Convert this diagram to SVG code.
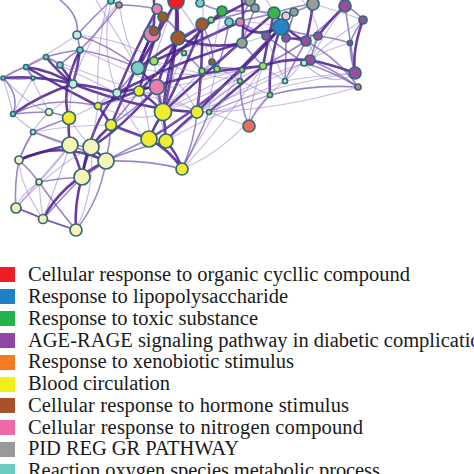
<svg xmlns="http://www.w3.org/2000/svg" width="474" height="474" viewBox="0 0 474 474">
<style>
.e1{fill:none;stroke:#4a1d8e;stroke-width:2.6;stroke-opacity:0.85}
.e2{fill:none;stroke:#5f3aa8;stroke-width:1.6;stroke-opacity:0.62}
.e3{fill:none;stroke:#9179c6;stroke-width:1.2;stroke-opacity:0.5}
.nd{stroke:#2e6b76;stroke-width:1.7}
.red{fill:#ee1c25}.blu{fill:#2484c6}.grn{fill:#3cb44a}.lgr{fill:#a8dc5a}.pur{fill:#9a4d9e}.org{fill:#f26b5a}
.yel{fill:#f3ec2e}.lye{fill:#f7f3b6}.brn{fill:#a5562a}.pnk{fill:#ec7bb2}.lpk{fill:#f3c6e0}.gry{fill:#9c9c9c}
.tea{fill:#7ccfc8}.lte{fill:#c4eadb}.rpk{fill:#ef6f82}
.lg{font-family:"Liberation Serif","Times New Roman",serif;font-size:20.5px;fill:#1a1a1a}
</style>
<g id="connectors">
<path class="e1" d="M176 1 Q160 30 138 68"/>
<path class="e1" d="M176 1 Q178 60 163 112"/>
<path class="e1" d="M176 -20 Q178 10 178 38"/>
<path class="e1" d="M163 17 Q150 50 139 91"/>
<path class="e1" d="M178 38 Q166 75 163 112"/>
<path class="e1" d="M178 38 Q165 60 157 87"/>
<path class="e1" d="M202 24 Q203 70 197 112"/>
<path class="e1" d="M202 24 Q185 70 163 112"/>
<path class="e1" d="M152 34 Q130 80 111 125"/>
<path class="e1" d="M152 34 Q144 50 138 68"/>
<path class="e1" d="M157 9 Q135 50 117 93"/>
<path class="e1" d="M274 13 Q220 60 163 112"/>
<path class="e1" d="M281 27 Q240 70 197 112"/>
<path class="e1" d="M281 27 Q230 90 149 139"/>
<path class="e1" d="M274 13 Q268 40 263 66"/>
<path class="e1" d="M281 27 Q270 30 266 36"/>
<path class="e1" d="M281 27 Q268 60 270 95"/>
<path class="e1" d="M240 22 Q200 40 154 61"/>
<path class="e1" d="M242 43 Q180 60 117 93"/>
<path class="e1" d="M250 1 Q190 30 138 68"/>
<path class="e1" d="M222 11 Q180 50 139 91"/>
<path class="e1" d="M313 4 Q310 25 306 41"/>
<path class="e1" d="M345 6 Q330 20 318 36"/>
<path class="e1" d="M363 20 Q352 50 355 73"/>
<path class="e1" d="M286 38 Q296 38 306 41"/>
<path class="e1" d="M263 66 Q234 90 209 112"/>
<path class="e1" d="M263 66 Q180 72 98 106"/>
<path class="e1" d="M310 60 Q285 58 263 66"/>
<path class="e1" d="M310 60 Q330 64 355 73"/>
<path class="e1" d="M240 -20 Q245 20 242 43"/>
<path class="e1" d="M150 -20 Q158 10 152 34"/>
<path class="e1" d="M26 67 Q50 70 73 84"/>
<path class="e1" d="M73 84 Q95 86 117 93"/>
<path class="e1" d="M3 78 Q40 75 73 84"/>
<path class="e1" d="M80 50 Q78 67 73 84"/>
<path class="e1" d="M46 57 Q58 72 73 84"/>
<path class="e1" d="M60 65 Q68 75 73 84"/>
<path class="e1" d="M13 114 Q40 95 73 84"/>
<path class="e1" d="M26 67 Q62 88 98 106"/>
<path class="e1" d="M80 50 Q60 90 69 118"/>
<path class="e1" d="M117 93 Q137 88 157 87"/>
<path class="e1" d="M98 106 Q105 115 111 125"/>
<path class="e1" d="M139 91 Q152 100 163 112"/>
<path class="e1" d="M157 87 Q160 100 163 112"/>
<path class="e1" d="M138 68 Q147 78 157 87"/>
<path class="e1" d="M73 84 Q140 110 197 112"/>
<path class="e1" d="M111 125 Q125 130 149 139"/>
<path class="e1" d="M163 112 Q155 125 149 139"/>
<path class="e1" d="M163 112 Q165 126 166 141"/>
<path class="e1" d="M197 112 Q180 125 166 141"/>
<path class="e1" d="M166 141 Q178 155 182 169"/>
<path class="e1" d="M149 139 Q170 150 182 169"/>
<path class="e1" d="M69 118 Q68 130 70 145"/>
<path class="e1" d="M70 145 Q78 160 82 177"/>
<path class="e1" d="M91 147 Q85 160 82 177"/>
<path class="e1" d="M106 161 Q98 152 91 147"/>
<path class="e1" d="M82 177 Q74 205 76 230"/>
<path class="e1" d="M106 161 Q60 185 43 219"/>
<path class="e1" d="M70 145 Q45 150 19 160"/>
<path class="e1" d="M111 125 Q100 135 91 147"/>
<path class="e1" d="M117 93 Q90 125 82 177"/>
<path class="e1" d="M19 160 Q60 140 106 161"/>
<path class="e1" d="M157 87 Q120 130 91 147"/>
<path class="e1" d="M281 27 Q250 40 240 22"/>
<path class="e1" d="M274 13 Q290 35 306 41"/>
<path class="e1" d="M178 38 Q210 50 242 43"/>
<path class="e2" d="M3 78 Q20 95 13 114"/>
<path class="e2" d="M3 78 Q15 70 26 67"/>
<path class="e2" d="M26 67 Q35 62 46 57"/>
<path class="e2" d="M46 57 Q53 60 60 65"/>
<path class="e2" d="M46 57 Q62 52 80 50"/>
<path class="e2" d="M60 65 Q70 55 80 50"/>
<path class="e2" d="M77 35 Q79 43 80 50"/>
<path class="e2" d="M26 67 Q30 72 33 78"/>
<path class="e2" d="M33 78 Q18 80 3 78"/>
<path class="e2" d="M77 35 Q110 45 138 68"/>
<path class="e2" d="M80 50 Q110 55 138 68"/>
<path class="e2" d="M77 35 Q95 15 111 1"/>
<path class="e2" d="M60 0 Q80 15 77 35"/>
<path class="e2" d="M119 5 Q100 30 80 50"/>
<path class="e2" d="M13 114 Q30 112 49 112"/>
<path class="e2" d="M49 112 Q60 114 69 118"/>
<path class="e2" d="M33 132 Q50 125 69 118"/>
<path class="e2" d="M33 132 Q50 138 70 145"/>
<path class="e2" d="M33 132 Q25 145 19 160"/>
<path class="e2" d="M19 160 Q30 170 39 182"/>
<path class="e2" d="M39 182 Q60 178 82 177"/>
<path class="e2" d="M19 160 Q14 185 16 208"/>
<path class="e2" d="M16 208 Q30 212 43 219"/>
<path class="e2" d="M16 208 Q45 220 76 230"/>
<path class="e2" d="M43 219 Q60 225 76 230"/>
<path class="e2" d="M39 182 Q55 205 76 230"/>
<path class="e2" d="M82 177 Q60 200 43 219"/>
<path class="e2" d="M70 145 Q80 146 91 147"/>
<path class="e2" d="M70 145 Q88 152 106 161"/>
<path class="e2" d="M106 161 Q95 170 82 177"/>
<path class="e2" d="M111 125 Q110 143 106 161"/>
<path class="e2" d="M106 161 Q100 200 76 230"/>
<path class="e2" d="M149 139 Q125 150 106 161"/>
<path class="e2" d="M166 141 Q130 150 106 161"/>
<path class="e2" d="M182 169 Q150 160 106 161"/>
<path class="e2" d="M197 112 Q203 112 209 112"/>
<path class="e2" d="M209 112 Q198 140 182 169"/>
<path class="e2" d="M197 112 Q195 140 182 169"/>
<path class="e2" d="M270 95 Q310 84 358 87"/>
<path class="e2" d="M249 126 Q255 108 270 95"/>
<path class="e2" d="M249 126 Q240 105 240 81"/>
<path class="e2" d="M358 87 Q330 70 304 63"/>
<path class="e2" d="M358 87 Q335 70 310 60"/>
<path class="e2" d="M358 87 Q340 60 306 41"/>
<path class="e2" d="M355 73 Q350 58 350 43"/>
<path class="e2" d="M350 43 Q335 38 318 36"/>
<path class="e2" d="M363 20 Q355 30 350 43"/>
<path class="e2" d="M363 20 Q355 10 345 6"/>
<path class="e2" d="M345 6 Q350 40 355 73"/>
<path class="e2" d="M285 81 Q295 60 306 41"/>
<path class="e2" d="M285 81 Q286 60 286 38"/>
<path class="e2" d="M304 63 Q285 50 266 36"/>
<path class="e2" d="M286 38 Q290 25 294 12"/>
<path class="e2" d="M286 16 Q284 20 281 27"/>
<path class="e2" d="M313 4 Q305 8 294 12"/>
<path class="e2" d="M255 8 Q248 25 242 43"/>
<path class="e2" d="M250 1 Q245 12 240 22"/>
<path class="e2" d="M240 22 Q253 30 266 36"/>
<path class="e2" d="M242 43 Q252 55 263 66"/>
<path class="e2" d="M242 70 Q252 68 263 66"/>
<path class="e2" d="M242 70 Q241 75 240 81"/>
<path class="e2" d="M318 36 Q314 48 310 60"/>
<path class="e2" d="M306 41 Q285 55 263 66"/>
<path class="e2" d="M281 27 Q300 35 318 36"/>
<path class="e2" d="M274 13 Q300 5 313 4"/>
<path class="e2" d="M345 6 Q320 30 306 41"/>
<path class="e2" d="M229 22 Q250 20 274 13"/>
<path class="e2" d="M222 11 Q248 10 274 13"/>
<path class="e2" d="M211 20 Q240 15 255 8"/>
<path class="e2" d="M202 71 Q220 65 242 70"/>
<path class="e2" d="M217 69 Q230 70 242 70"/>
<path class="e2" d="M184 53 Q195 62 202 71"/>
<path class="e2" d="M212 62 Q214 66 217 69"/>
<path class="e2" d="M200 3 Q210 8 222 11"/>
<path class="e2" d="M163 17 Q158 12 157 9"/>
<path class="e2" d="M163 17 Q180 30 178 38"/>
<path class="e2" d="M119 5 Q138 5 157 9"/>
<path class="e2" d="M111 1 Q115 3 119 5"/>
<path class="e2" d="M154 61 Q147 64 138 68"/>
<path class="e2" d="M178 38 Q195 30 202 24"/>
<path class="e2" d="M202 24 Q215 50 212 62"/>
<path class="e2" d="M229 22 Q225 48 217 69"/>
<path class="e2" d="M138 68 Q128 80 117 93"/>
<path class="e2" d="M139 91 Q125 110 111 125"/>
<path class="e2" d="M157 87 Q135 110 111 125"/>
<path class="e2" d="M98 106 Q117 100 139 91"/>
<path class="e2" d="M13 114 Q50 95 98 106"/>
<path class="e2" d="M33 78 Q75 82 117 93"/>
<path class="e3" d="M110 -10 Q95 50 98 106"/>
<path class="e3" d="M130 -10 Q90 30 73 84"/>
<path class="e3" d="M90 -10 Q120 40 138 68"/>
<path class="e3" d="M3 78 Q40 60 77 35"/>
<path class="e3" d="M13 114 Q40 140 70 145"/>
<path class="e3" d="M3 78 Q35 110 49 112"/>
<path class="e3" d="M60 65 Q90 80 117 93"/>
<path class="e3" d="M46 57 Q90 75 139 91"/>
<path class="e3" d="M80 50 Q130 70 157 87"/>
<path class="e3" d="M77 35 Q130 40 154 61"/>
<path class="e3" d="M73 84 Q70 100 69 118"/>
<path class="e3" d="M69 118 Q90 110 117 93"/>
<path class="e3" d="M49 112 Q70 100 73 84"/>
<path class="e3" d="M19 160 Q30 130 49 112"/>
<path class="e3" d="M19 160 Q20 185 43 219"/>
<path class="e3" d="M39 182 Q20 195 16 208"/>
<path class="e3" d="M39 182 Q40 200 43 219"/>
<path class="e3" d="M16 208 Q40 180 70 145"/>
<path class="e3" d="M43 219 Q60 175 70 145"/>
<path class="e3" d="M16 208 Q50 170 91 147"/>
<path class="e3" d="M76 230 Q95 190 91 147"/>
<path class="e3" d="M39 182 Q60 160 70 145"/>
<path class="e3" d="M33 132 Q70 125 111 125"/>
<path class="e3" d="M69 118 Q80 135 91 147"/>
<path class="e3" d="M98 106 Q95 125 91 147"/>
<path class="e3" d="M98 106 Q110 90 117 93"/>
<path class="e3" d="M117 93 Q140 140 149 139"/>
<path class="e3" d="M139 91 Q150 120 149 139"/>
<path class="e3" d="M157 87 Q160 120 166 141"/>
<path class="e3" d="M111 125 Q140 140 166 141"/>
<path class="e3" d="M98 106 Q140 125 163 112"/>
<path class="e3" d="M117 93 Q160 95 197 112"/>
<path class="e3" d="M139 91 Q170 95 197 112"/>
<path class="e3" d="M154 61 Q185 85 197 112"/>
<path class="e3" d="M154 61 Q158 90 163 112"/>
<path class="e3" d="M138 68 Q155 90 163 112"/>
<path class="e3" d="M184 53 Q170 80 163 112"/>
<path class="e3" d="M202 71 Q200 90 197 112"/>
<path class="e3" d="M217 69 Q210 90 209 112"/>
<path class="e3" d="M212 62 Q180 90 163 112"/>
<path class="e3" d="M242 70 Q200 90 163 112"/>
<path class="e3" d="M240 81 Q220 95 197 112"/>
<path class="e3" d="M240 81 Q200 110 166 141"/>
<path class="e3" d="M242 70 Q210 120 182 169"/>
<path class="e3" d="M263 66 Q220 130 182 169"/>
<path class="e3" d="M270 95 Q230 110 209 112"/>
<path class="e3" d="M270 95 Q230 150 182 169"/>
<path class="e3" d="M285 81 Q240 100 209 112"/>
<path class="e3" d="M304 63 Q250 80 209 112"/>
<path class="e3" d="M310 60 Q250 90 197 112"/>
<path class="e3" d="M355 73 Q270 85 209 112"/>
<path class="e3" d="M358 87 Q280 110 209 112"/>
<path class="e3" d="M355 73 Q330 90 304 63"/>
<path class="e3" d="M355 73 Q320 75 285 81"/>
<path class="e3" d="M350 43 Q325 50 310 60"/>
<path class="e3" d="M363 20 Q330 40 310 60"/>
<path class="e3" d="M363 20 Q335 10 313 4"/>
<path class="e3" d="M345 6 Q330 25 310 60"/>
<path class="e3" d="M318 36 Q300 70 285 81"/>
<path class="e3" d="M266 36 Q275 60 285 81"/>
<path class="e3" d="M263 66 Q275 75 285 81"/>
<path class="e3" d="M242 43 Q254 40 266 36"/>
<path class="e3" d="M255 8 Q270 15 281 27"/>
<path class="e3" d="M240 22 Q260 22 281 27"/>
<path class="e3" d="M294 12 Q290 30 286 38"/>
<path class="e3" d="M306 41 Q320 55 304 63"/>
<path class="e3" d="M294 -10 Q320 20 318 36"/>
<path class="e3" d="M260 -10 Q270 5 274 13"/>
<path class="e3" d="M330 -10 Q340 0 345 6"/>
<path class="e3" d="M200 -10 Q205 10 202 24"/>
<path class="e3" d="M176 1 Q200 30 212 62"/>
<path class="e3" d="M176 1 Q160 40 154 61"/>
<path class="e3" d="M157 9 Q150 20 152 34"/>
<path class="e3" d="M222 11 Q215 40 212 62"/>
<path class="e3" d="M229 22 Q200 45 184 53"/>
<path class="e3" d="M242 43 Q220 60 202 71"/>
<path class="e3" d="M240 81 Q228 72 217 69"/>
<path class="e3" d="M270 95 Q255 88 240 81"/>
<path class="e3" d="M249 126 Q230 120 209 112"/>
<path class="e3" d="M249 126 Q250 100 263 66"/>
<path class="e3" d="M270 95 Q275 88 285 81"/>
<path class="e3" d="M111 1 Q100 50 117 93"/>
<path class="e3" d="M119 5 Q125 40 138 68"/>
<path class="e3" d="M13 114 Q10 100 3 78"/>
<path class="e3" d="M33 78 Q20 100 13 114"/>
<path class="e3" d="M26 67 Q40 95 49 112"/>
<path class="e3" d="M138 68 Q190 80 242 70"/>
<path class="e3" d="M154 61 Q200 75 240 81"/>
<path class="e3" d="M163 112 Q210 95 263 66"/>
<path class="e3" d="M149 139 Q210 100 242 70"/>
<path class="e3" d="M166 141 Q220 110 270 95"/>
<path class="e3" d="M98 106 Q180 85 242 70"/>
</g>
<g id="n1"><circle class="nd red" cx="176" cy="1" r="8"/></g>
<g id="n2"><circle class="nd tea" cx="111" cy="1" r="3"/></g>
<g id="n3"><circle class="nd pnk" cx="119" cy="5" r="3"/></g>
<g id="n4"><circle class="nd pnk" cx="157" cy="9" r="5"/></g>
<g id="n5"><circle class="nd brn" cx="163" cy="17" r="5"/></g>
<g id="n6"><circle class="nd tea" cx="200" cy="3" r="4"/></g>
<g id="n7"><circle class="nd grn" cx="222" cy="11" r="5"/></g>
<g id="n8"><circle class="nd tea" cx="229" cy="22" r="4"/></g>
<g id="n9"><circle class="nd brn" cx="202" cy="24" r="6"/></g>
<g id="n10"><circle class="nd lgr" cx="211" cy="20" r="3"/></g>
<g id="n11"><circle class="nd pnk" cx="152" cy="34" r="8"/><circle class="nd brn" cx="154" cy="31" r="4.5"/></g>
<g id="n12"><circle class="nd brn" cx="178" cy="38" r="7"/></g>
<g id="n13"><circle class="nd lte" cx="77" cy="35" r="4"/></g>
<g id="n14"><circle class="nd lgr" cx="184" cy="53" r="2.5"/></g>
<g id="n15"><circle class="nd lgr" cx="154" cy="61" r="4"/></g>
<g id="n16"><circle class="nd brn" cx="212" cy="62" r="3"/></g>
<g id="n17"><circle class="nd lgr" cx="202" cy="71" r="3"/></g>
<g id="n18"><circle class="nd lgr" cx="217" cy="69" r="3"/></g>
<g id="n19"><circle class="nd tea" cx="80" cy="50" r="3"/></g>
<g id="n20"><circle class="nd tea" cx="46" cy="57" r="2.5"/></g>
<g id="n21"><circle class="nd tea" cx="60" cy="65" r="3"/></g>
<g id="n22"><circle class="nd tea" cx="26" cy="67" r="2.5"/></g>
<g id="n23"><circle class="nd tea" cx="33" cy="78" r="2"/></g>
<g id="n24"><circle class="nd tea" cx="3" cy="78" r="2"/></g>
<g id="n25"><circle class="nd tea" cx="138" cy="68" r="6.5"/></g>
<g id="n26"><circle class="nd lte" cx="73" cy="84" r="4"/></g>
<g id="n27"><circle class="nd pnk" cx="157" cy="87" r="7.5"/></g>
<g id="n28"><circle class="nd yel" cx="139" cy="91" r="5"/></g>
<g id="n29"><circle class="nd lte" cx="117" cy="93" r="4"/></g>
<g id="n30"><circle class="nd yel" cx="98" cy="106" r="3.5"/></g>
<g id="n31"><circle class="nd tea" cx="13" cy="114" r="2.5"/></g>
<g id="n32"><circle class="nd lye" cx="49" cy="112" r="3.5"/></g>
<g id="n33"><circle class="nd yel" cx="69" cy="118" r="6.5"/></g>
<g id="n34"><circle class="nd yel" cx="163" cy="112" r="8.5"/></g>
<g id="n35"><circle class="nd yel" cx="197" cy="112" r="6"/></g>
<g id="n36"><circle class="nd lgr" cx="209" cy="112" r="2.5"/></g>
<g id="n37"><circle class="nd yel" cx="111" cy="125" r="5.5"/></g>
<g id="n38"><circle class="nd lte" cx="33" cy="132" r="2.5"/></g>
<g id="n39"><circle class="nd lye" cx="70" cy="145" r="8"/></g>
<g id="n40"><circle class="nd lye" cx="91" cy="147" r="8"/></g>
<g id="n41"><circle class="nd lye" cx="106" cy="161" r="8"/></g>
<g id="n42"><circle class="nd lye" cx="82" cy="177" r="8"/></g>
<g id="n43"><circle class="nd lye" cx="19" cy="160" r="4"/></g>
<g id="n44"><circle class="nd lye" cx="39" cy="182" r="3"/></g>
<g id="n45"><circle class="nd lye" cx="16" cy="208" r="5"/></g>
<g id="n46"><circle class="nd lye" cx="43" cy="219" r="4.5"/></g>
<g id="n47"><circle class="nd lye" cx="76" cy="230" r="6"/></g>
<g id="n48"><circle class="nd yel" cx="149" cy="139" r="8"/></g>
<g id="n49"><circle class="nd yel" cx="166" cy="141" r="7"/></g>
<g id="n50"><circle class="nd yel" cx="182" cy="169" r="6"/></g>
<g id="n51"><circle class="nd gry" cx="250" cy="1" r="5"/></g>
<g id="n52"><circle class="nd gry" cx="255" cy="8" r="4"/></g>
<g id="n53"><circle class="nd gry" cx="313" cy="4" r="6"/></g>
<g id="n54"><circle class="nd pur" cx="345" cy="6" r="6"/></g>
<g id="n55"><circle class="nd grn" cx="274" cy="13" r="6"/></g>
<g id="n56"><circle class="nd lpk" cx="286" cy="16" r="4"/></g>
<g id="n57"><circle class="nd gry" cx="294" cy="12" r="4"/></g>
<g id="n58"><circle class="nd pnk" cx="240" cy="22" r="4"/></g>
<g id="n59"><circle class="nd blu" cx="281" cy="27" r="8"/></g>
<g id="n60"><circle class="nd pur" cx="363" cy="20" r="4"/></g>
<g id="n61"><circle class="nd pur" cx="266" cy="36" r="4"/></g>
<g id="n62"><circle class="nd pur" cx="286" cy="38" r="4"/></g>
<g id="n63"><circle class="nd pur" cx="306" cy="41" r="5"/></g>
<g id="n64"><circle class="nd pur" cx="318" cy="36" r="4"/></g>
<g id="n65"><circle class="nd gry" cx="242" cy="43" r="5"/></g>
<g id="n66"><circle class="nd pur" cx="350" cy="43" r="2.5"/></g>
<g id="n67"><circle class="nd pur" cx="310" cy="60" r="5"/></g>
<g id="n68"><circle class="nd lte" cx="304" cy="63" r="3"/></g>
<g id="n69"><circle class="nd lgr" cx="263" cy="66" r="3.5"/></g>
<g id="n70"><circle class="nd lgr" cx="242" cy="70" r="2.5"/></g>
<g id="n71"><circle class="nd lgr" cx="240" cy="81" r="2.5"/></g>
<g id="n72"><circle class="nd pur" cx="355" cy="73" r="6"/></g>
<g id="n73"><circle class="nd lte" cx="285" cy="81" r="2.5"/></g>
<g id="n74"><circle class="nd rpk" cx="358" cy="87" r="3"/></g>
<g id="n75"><circle class="nd lgr" cx="270" cy="95" r="2.5"/></g>
<g id="n76"><circle class="nd org" cx="249" cy="126" r="6"/></g>
<g id="legend">
<rect x="0" y="267" width="15" height="15" fill="#ee1c25"/>
<rect x="0" y="289" width="15" height="15" fill="#2080c4"/>
<rect x="0" y="311" width="15" height="15" fill="#25b14b"/>
<rect x="0" y="333" width="15" height="15" fill="#9049a3"/>
<rect x="0" y="355" width="15" height="15" fill="#f47b20"/>
<rect x="0" y="377" width="15" height="15" fill="#f4ee1d"/>
<rect x="0" y="398" width="15" height="15" fill="#a8522a"/>
<rect x="0" y="420" width="15" height="15" fill="#ec6aa8"/>
<rect x="0" y="442" width="15" height="15" fill="#999999"/>
<rect x="0" y="464" width="15" height="15" fill="#6ccbc1"/>
<text class="lg" x="28" y="281" textLength="382">Cellular response to organic cycllic compound</text>
<text class="lg" x="28" y="303" textLength="260">Response to lipopolysaccharide</text>
<text class="lg" x="28" y="325" textLength="230">Response to toxic substance</text>
<text class="lg" x="28" y="346.5">AGE-RAGE signaling pathway in diabetic complications</text>
<text class="lg" x="28" y="368" textLength="266">Response to xenobiotic stimulus</text>
<text class="lg" x="28" y="390" textLength="142">Blood circulation</text>
<text class="lg" x="28" y="411.5" textLength="321">Cellular response to hormone stimulus</text>
<text class="lg" x="28" y="433.5" textLength="335">Cellular response to nitrogen compound</text>
<text class="lg" x="28" y="455" textLength="211">PID REG GR PATHWAY</text>
<text class="lg" x="28" y="477" textLength="352">Reaction oxygen species metabolic process</text>
</g>
</svg>
